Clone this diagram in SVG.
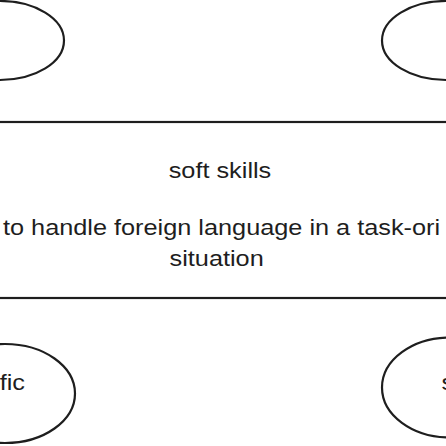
<svg xmlns="http://www.w3.org/2000/svg" width="446" height="446" viewBox="0 0 446 446">
<style>
.sh{fill:none;stroke:#1e1e1e;stroke-width:2.2}
.t{font-family:"Liberation Sans",Arial,sans-serif;font-size:22px;fill:#1e1e1e}
</style>
<rect width="446" height="446" fill="#fff"/>
<g id="node-top-left"><ellipse class="sh" cx="0" cy="40.5" rx="64" ry="39.5"/></g>
<g id="node-top-right"><ellipse class="sh" cx="446" cy="40.5" rx="64" ry="39.5"/></g>
<g id="node-center">
<rect class="sh" x="-10" y="122" width="466" height="176" stroke-width="2.4"/>
<g transform="scale(1.15 1)">
<text class="t" x="191.3" y="178" text-anchor="middle">soft skills</text>
<text class="t" x="2.6" y="235">to handle foreign language in a task-ori</text>
<text class="t" x="188.4" y="266.5" text-anchor="middle">situation</text>
</g>
</g>
<g id="node-bottom-left">
<ellipse class="sh" cx="5" cy="393.5" rx="70" ry="49.5"/>
<text class="t" transform="scale(1.15 1)" x="21.7" y="390" text-anchor="end">fic</text>
</g>
<g id="node-bottom-right">
<ellipse class="sh" cx="450" cy="387.5" rx="68" ry="50"/>
<text class="t" transform="scale(1.15 1)" x="384" y="390">s</text>
</g>
<g id="connectors"></g>
</svg>
